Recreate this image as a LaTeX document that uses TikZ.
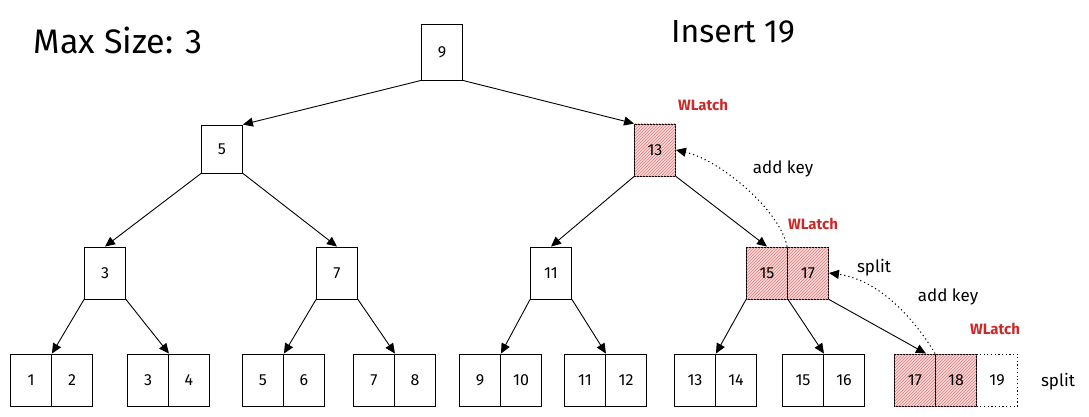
\documentclass[tikz,border=0pt]{standalone}
\usepackage{fontspec}
\setmainfont{Fira Sans}
\usetikzlibrary{patterns,arrows.meta}
\definecolor{latch}{HTML}{C92A2A}
\definecolor{hfill}{HTML}{F6D9D9}
\begin{document}
\begin{tikzpicture}[x=1pt,y=-1pt,
  box/.style={draw=black,line width=0.9pt,minimum width=41pt,minimum height=52pt,inner sep=0pt,font=\fontsize{16}{16}\selectfont},
  hot/.style={box,fill=hfill,postaction={pattern=north east lines,pattern color=latch!60}},
  dbox/.style={box,dash pattern=on 1.2pt off 2.5pt},
  arr/.style={-{Triangle[length=10pt,width=9pt]},line width=0.9pt},
  darr/.style={-{Triangle[length=10pt,width=9pt]},line width=1pt,dash pattern=on 1.2pt off 3pt},
  lbl/.style={font=\fontsize{17}{17}\selectfont},
  wl/.style={text=latch,font=\bfseries\fontsize{15}{15}\selectfont}]
\useasboundingbox (0,0) rectangle (1089,417);
\node[font=\fontsize{34}{34}\selectfont] (title) at (118,40) {Max Size: 3};
\node[font=\fontsize{32}{32}\selectfont] (ins) at (733,32) {Insert 19};
% internal
\node[box,minimum height=56pt] (n9) at (442,52) {9};
\node[box,minimum height=48pt] (n5) at (222,149) {5};
\node[hot] (n13) at (655,150) {13};
\node[box] (n3) at (105,273) {3};
\node[box] (n7) at (337,273) {7};
\node[box] (n11) at (551,273) {11};
\node[hot] (n15) at (767,273) {15};
\node[hot] (n17) at (808,273) {17};
% leaves
\foreach \a/\b/\x in {1/2/31,3/4/148,5/6/263,7/8/374,9/10/480,11/12/585,13/14/695,15/16/803}{
  \node[box] (l\a) at (\x,380) {\a};
  \node[box] (l\b) at (\x+41,380) {\b};
}
\node[hot] (h17) at (915,380) {17};
\node[hot] (h18) at (956,380) {18};
\node[dbox] (h19) at (997,380) {19};
% arrows
\draw[arr] (n9.south west) -- (n5.north east);
\draw[arr] (n9.south east) -- (n13.north west);
\draw[arr] (n5.south west) -- (n3.north);
\draw[arr] (n5.south east) -- (n7.north);
\draw[arr] (n13.south west) -- (n11.north);
\draw[arr] (n13.south east) -- (n15.north);
\draw[arr] (n3.south west) -- (l1.north east);
\draw[arr] (n3.south east) -- (l3.north east);
\draw[arr] (n7.south west) -- (l5.north east);
\draw[arr] (n7.south east) -- (l7.north east);
\draw[arr] (n11.south west) -- (l9.north east);
\draw[arr] (n11.south east) -- (l11.north east);
\draw[arr] (n15.south west) -- (l13.north east);
\draw[arr] (n15.south east) -- (l15.north east);
\draw[arr] (n17.south east) -- ([xshift=-10pt]h17.north east);
% dotted
\draw[darr] (n17.north west) .. controls (780,210) and (720,160) .. (n13.east);
\draw[darr] (h18.north west) .. controls (915,320) and (880,280) .. (n17.east);
% labels
\node[wl] (w1) at (703,105) {WLatch};
\node[wl] (w2) at (813,224) {WLatch};
\node[wl] (w3) at (995,329) {WLatch};
\node[lbl] (k1) at (783,169) {add key};
\node[lbl] (k2) at (948,297) {add key};
\node[lbl] (s1) at (874,268) {split};
\node[lbl] (s2) at (1058,382) {split};
\end{tikzpicture}
\end{document}
